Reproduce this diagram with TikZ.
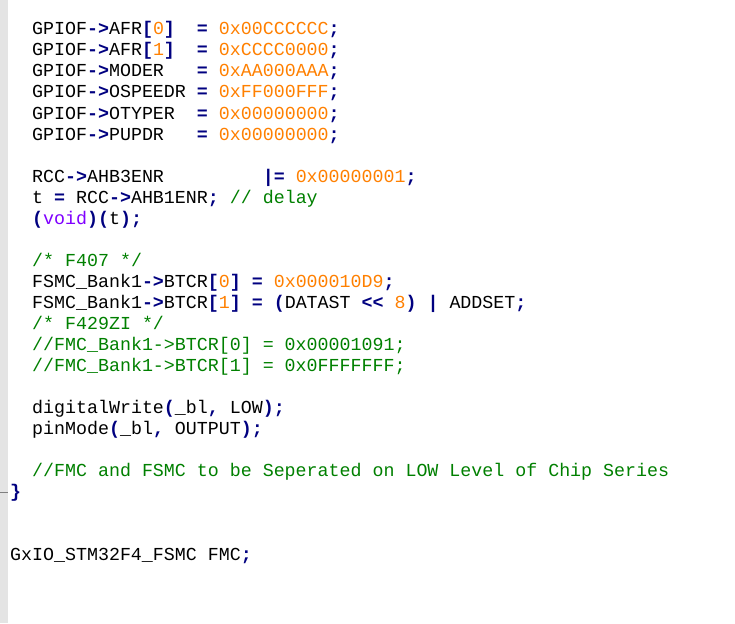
\documentclass[tikz,border=0pt]{standalone}
\usepackage{fontspec}
\setmonofont{Liberation Mono}
\usepackage{xcolor}
\definecolor{opblue}{HTML}{000080}
\definecolor{numorange}{HTML}{FF8000}
\definecolor{cmtgreen}{HTML}{008000}
\definecolor{kwpurple}{HTML}{8000FF}
\definecolor{gutter}{HTML}{E4E4E4}
\newcommand{\op}[1]{\textcolor{opblue}{\bfseries #1}}
\newcommand{\num}[1]{\textcolor{numorange}{#1}}
\newcommand{\cmt}[1]{\textcolor{cmtgreen}{#1}}
\newcommand{\kw}[1]{\textcolor{kwpurple}{#1}}

\begin{document}
\begin{tikzpicture}[x=1pt, y=-1pt]
    % Styles
    \tikzstyle{code} = [anchor=base west, inner sep=0pt, font=\ttfamily\fontsize{18.3}{21}\selectfont]

    % Canvas and gutter
    \useasboundingbox (0,0) rectangle (735,623);
    \fill[white] (0,0) rectangle (735,623);
    \fill[gutter] (0,0) rectangle (8,623);
    \draw[gray, thin] (0,492) -- (8,492);

    % Lines
    \node (l1) [code] at (32,35) {GPIOF\op{->}AFR\op{[}\num{0}\op{]}~~\op{=} \num{0x00CCCCCC}\op{;}};
    \node (l2) [code] at (32,56) {GPIOF\op{->}AFR\op{[}\num{1}\op{]}~~\op{=} \num{0xCCCC0000}\op{;}};
    \node (l3) [code] at (32,77) {GPIOF\op{->}MODER~~~\op{=} \num{0xAA000AAA}\op{;}};
    \node (l4) [code] at (32,98) {GPIOF\op{->}OSPEEDR~\op{=} \num{0xFF000FFF}\op{;}};
    \node (l5) [code] at (32,119) {GPIOF\op{->}OTYPER~~\op{=} \num{0x00000000}\op{;}};
    \node (l6) [code] at (32,140) {GPIOF\op{->}PUPDR~~~\op{=} \num{0x00000000}\op{;}};

    \node (l7) [code] at (32,182) {RCC\op{->}AHB3ENR~~~~~~~~~\op{|=} \num{0x00000001}\op{;}};
    \node (l8) [code] at (32,203) {t \op{=} RCC\op{->}AHB1ENR\op{;} \cmt{// delay}};
    \node (l9) [code] at (32,224) {\op{(}\kw{void}\op{)(}t\op{);}};

    \node (l10) [code] at (32,266) {\cmt{/* F407 */}};
    \node (l11) [code] at (32,287) {FSMC\_Bank1\op{->}BTCR\op{[}\num{0}\op{]} \op{=} \num{0x000010D9}\op{;}};
    \node (l12) [code] at (32,308) {FSMC\_Bank1\op{->}BTCR\op{[}\num{1}\op{]} \op{=} \op{(}DATAST \op{\textless\textless} \num{8}\op{)} \op{|} ADDSET\op{;}};
    \node (l13) [code] at (32,329) {\cmt{/* F429ZI */}};
    \node (l14) [code] at (32,350) {\cmt{//FMC\_Bank1->BTCR[0] = 0x00001091;}};
    \node (l15) [code] at (32,371) {\cmt{//FMC\_Bank1->BTCR[1] = 0x0FFFFFFF;}};

    \node (l16) [code] at (32,413) {digitalWrite\op{(}\_bl\op{,} LOW\op{);}};
    \node (l17) [code] at (32,434) {pinMode\op{(}\_bl\op{,} OUTPUT\op{);}};

    \node (l18) [code] at (32,476) {\cmt{//FMC and FSMC to be Seperated on LOW Level of Chip Series}};
    \node (l19) [code] at (10,497) {\op{\}}};

    \node (l20) [code] at (10,560) {GxIO\_STM32F4\_FSMC FMC\op{;}};
\end{tikzpicture}
\end{document}
